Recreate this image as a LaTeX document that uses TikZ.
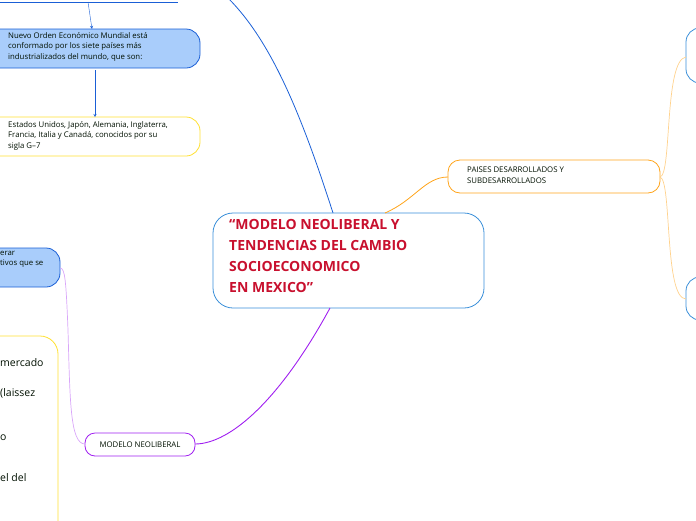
\documentclass[tikz,border=0pt]{standalone}
\usepackage{fontspec}
\setmainfont{Open Sans}
\begin{document}
\begin{tikzpicture}[x=1pt,y=-1pt,
  bx/.style={draw,line width=0.8pt,rounded corners=14pt},
  tx/.style={anchor=north west,align=left,text=black!80!green!30!black,font=\fontsize{7.8}{10.5}\selectfont,inner sep=0pt},
  big/.style={anchor=west,inner sep=0pt,text=black!80!green!30!black,font=\fontsize{10.5}{12}\selectfont}]
\useasboundingbox (0,0) rectangle (696,520);
\definecolor{lb}{HTML}{A9CDFB}\definecolor{db}{HTML}{1A5FD6}
\definecolor{yl}{HTML}{FFE033}\definecolor{pu}{HTML}{A020F0}
\definecolor{cb}{HTML}{3A8FD9}\definecolor{rd}{HTML}{C8102E}
\definecolor{og}{HTML}{FFA41B}
% partial top box
\draw[db,line width=0.8pt] (-10,2) -- (178,2);
\coordinate (tb) at (88,2);
% Nuevo Orden
\draw[bx,db,fill=lb] (-20,29) rectangle (200,68);
\node[tx] (n1) at (8,32) {Nuevo Orden Económico Mundial está\\conformado por los siete países más\\industrializados del mundo, que son:};
\coordinate (n1t) at (92,29); \coordinate (n1b) at (95,70);
\draw[db,->,>=stealth] (tb) -- (n1t);
% Estados
\draw[bx,yl] (-20,117) rectangle (200,156);
\node[tx] (n2) at (8,121) {Estados Unidos, Japón, Alemania, Inglaterra,\\Francia, Italia y Canadá, conocidos por su\\sigla G–7};
\coordinate (n2t) at (95,117);
\draw[db,->,>=stealth] (n1b) -- (n2t);
% erar box
\draw[bx,db,fill=lb] (-30,248) rectangle (60,287);
\node[tx] (n3) at (0,251) {erar\\tivos que se};
\coordinate (n3r) at (60,268);
% big yellow box
\draw[bx,yl,rounded corners=18pt] (-40,336) rectangle (58,540);
\node[big] (m1) at (0,363) {mercado};
\node[big] (m2) at (0,393) {(laissez};
\node[big] (m3) at (0,438) {o};
\node[big] (m4) at (0,478) {el del};
% MODELO NEOLIBERAL
\draw[bx,pu,rounded corners=10pt] (85,433) rectangle (195,456);
\node[tx,anchor=center] (mn) at (140,444.5) {MODELO NEOLIBERAL};
\coordinate (mnl) at (85,444); \coordinate (mnr) at (195,444);
% central
\draw[bx,cb,rounded corners=20pt] (213,213) rectangle (484,308);
\node[anchor=north west,align=left,inner sep=0pt,text=rd,font=\bfseries\fontsize{14}{21}\selectfont] (c) at (229,219) {“MODELO NEOLIBERAL Y\\TENDENCIAS DEL CAMBIO\\SOCIOECONOMICO\\EN MEXICO”};
\coordinate (ct) at (333,213); \coordinate (cbm) at (330,308); \coordinate (cr) at (385,213);
% PAISES
\draw[bx,og,rounded corners=12pt] (448,160) rectangle (660,193);
\node[tx] (p) at (467,167) {PAISES DESARROLLADOS Y\\SUBDESARROLLADOS};
\coordinate (pl) at (448,177); \coordinate (pr) at (660,177);
% right boxes
\draw[bx,cb] (686,28) rectangle (720,83);
\draw[bx,cb] (686,277) rectangle (720,320);
\coordinate (r1) at (686,57); \coordinate (r2) at (686,299);
% connectors
\draw[db,line width=0.8pt] (ct) .. controls (300,110) and (270,40) .. (228,-2);
\draw[pu,line width=0.9pt] (cbm) .. controls (280,400) and (230,444) .. (mnr);
\draw[pu!40,line width=0.7pt] (mnl) .. controls (70,444) and (70,400) .. (68,330) .. controls (66,280) and (65,268) .. (n3r);
\draw[og,line width=0.8pt] (cr) .. controls (415,200) and (425,177) .. (pl);
\draw[og!50,line width=0.7pt] (pr) .. controls (672,175) and (664,60) .. (r1);
\draw[og!50,line width=0.7pt] (pr) .. controls (672,180) and (664,299) .. (r2);
\end{tikzpicture}
\end{document}
